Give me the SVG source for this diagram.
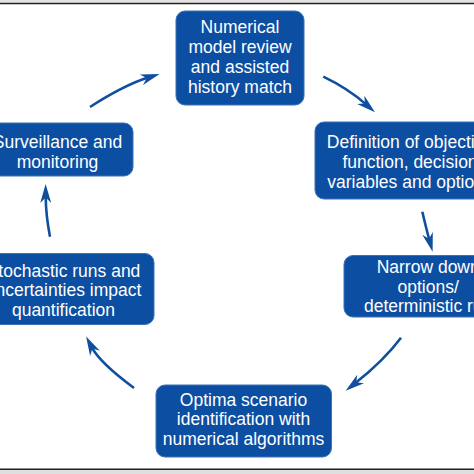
<svg xmlns="http://www.w3.org/2000/svg" width="474" height="474" viewBox="0 0 474 474">
<style>
.box{fill:#0c4ea2;stroke:#3b71b8;stroke-width:1}
.lbl{font-family:"Liberation Sans",Arial,sans-serif;font-size:17.5px;fill:#ffffff;text-anchor:middle}
.arr{fill:none;stroke:#0f4f9e;stroke-width:2.6;marker-end:url(#ah)}
</style>
<defs>
<marker id="ah" markerUnits="userSpaceOnUse" markerWidth="30" markerHeight="20" refX="0" refY="0" viewBox="-10 -10 30 20" orient="auto" overflow="visible">
<path d="M12,0 L-7,-5.5 L-1.5,0 L-7,5.5 Z" fill="#0f4f9e"/>
</marker>
</defs>
<rect x="0" y="0" width="474" height="474" fill="#ffffff"/>
<rect x="0" y="0" width="474" height="2.5" fill="#e2e2e2"/>
<line x1="0" y1="3.5" x2="474" y2="3.5" stroke="#1e1e1e" stroke-width="1.6"/>
<line x1="0" y1="469.2" x2="474" y2="469.2" stroke="#1e1e1e" stroke-width="1.6"/>
<rect x="0" y="470.2" width="474" height="3.8" fill="#dedede"/>

<g id="connectors">
<path class="arr" d="M90,107 Q124.5,85 148.1,77.6"/>
<path class="arr" d="M323.3,76.7 Q348,88.5 366,104.4"/>
<path class="arr" d="M422.3,211.7 Q427,231.5 429.4,240.1"/>
<path class="arr" d="M401,337.7 Q383.9,360.5 355.1,383.3"/>
<path class="arr" d="M134,388 Q100,363 91.7,347.2"/>
<path class="arr" d="M50,236.7 Q45.8,215 45.7,196"/>
</g>

<g id="node-review">
<rect class="box" x="176" y="11" width="128" height="94" rx="9"/>
<text class="lbl" x="240" y="32.5">Numerical</text>
<text class="lbl" x="240" y="52.5">model review</text>
<text class="lbl" x="240" y="72.5">and assisted</text>
<text class="lbl" x="240" y="92.5">history match</text>
</g>

<g id="node-definition">
<rect class="box" x="315" y="122" width="190" height="77" rx="9"/>
<text class="lbl" x="410" y="148">Definition of objective</text>
<text class="lbl" x="410" y="168">function, decision</text>
<text class="lbl" x="410" y="187.5">variables and options</text>
</g>

<g id="node-narrow">
<rect class="box" x="344" y="255.5" width="168" height="61.5" rx="9"/>
<text class="lbl" x="428.2" y="273">Narrow down</text>
<text class="lbl" x="428.2" y="292.5">options/</text>
<text class="lbl" x="432.5" y="312">deterministic runs</text>
</g>

<g id="node-optima">
<rect class="box" x="156" y="385" width="175.5" height="72" rx="9"/>
<text class="lbl" x="243.5" y="405.5">Optima scenario</text>
<text class="lbl" x="243.5" y="425">identification with</text>
<text class="lbl" x="243.5" y="444.5">numerical algorithms</text>
</g>

<g id="node-stochastic">
<rect class="box" x="-27" y="253.5" width="181" height="71" rx="9"/>
<text class="lbl" x="63.5" y="276.5">Stochastic runs and</text>
<text class="lbl" x="63.5" y="296">uncertainties impact</text>
<text class="lbl" x="63.5" y="315.5">quantification</text>
</g>

<g id="node-surveillance">
<rect class="box" x="-18" y="123" width="151" height="53" rx="9"/>
<text class="lbl" x="57.5" y="148">Surveillance and</text>
<text class="lbl" x="57.5" y="168">monitoring</text>
</g>
</svg>
